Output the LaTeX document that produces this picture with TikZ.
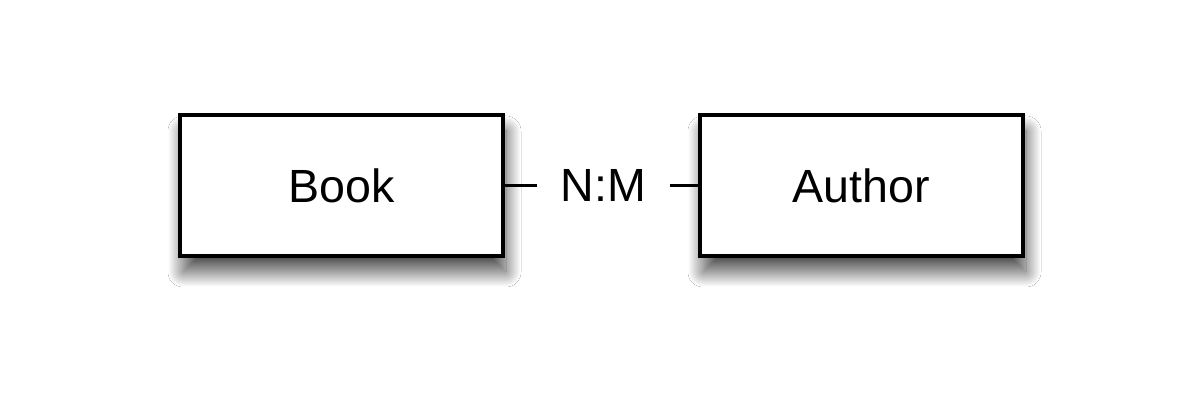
\documentclass[tikz,border=0pt]{standalone}
\usepackage{fontspec}
\setmainfont{Liberation Sans}
\usetikzlibrary{shadows.blur}
\begin{document}
\begin{tikzpicture}
\fill[white] (0,0) rectangle (24,8);
\useasboundingbox (0,0) rectangle (24,8);
\tikzset{
  entity/.style={draw=black, fill=white, line width=0.07cm,
    minimum width=6.46cm, minimum height=2.82cm, inner sep=0pt,
    font=\fontsize{26.5}{30}\selectfont,
    blur shadow={shadow xshift=0.06cm, shadow yshift=-0.32cm,
      shadow blur radius=0.3cm, shadow blur steps=30, shadow opacity=70}},
  rel/.style={inner xsep=0.46cm, inner ysep=0pt, font=\fontsize{26.5}{30}\selectfont},
  conn/.style={draw=black, line width=0.07cm}
}
\node[entity] (book) at (6.83,4.29) {Book};
\node[entity] (author) at (17.23,4.29) {Author};
\node[rel] (nm) at (12.07,4.29) {N:M};
\draw[conn] (book.east) -- (nm.west);
\draw[conn] (nm.east) -- (author.west);
\end{tikzpicture}
\end{document}
